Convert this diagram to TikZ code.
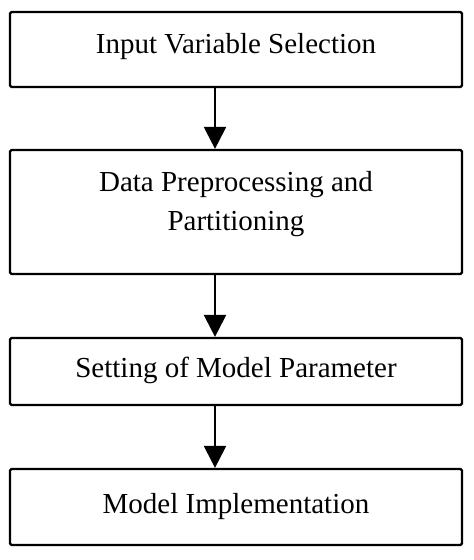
\documentclass[tikz,border=0pt]{standalone}
\usepackage{fontspec}
\setmainfont{Liberation Serif}
\usetikzlibrary{arrows.meta}

\begin{document}
\begin{tikzpicture}[x=1pt,y=-1pt,
	stepbox/.style={draw,line width=2.2pt,rounded corners=1.5pt,minimum width=452pt,inner sep=0pt,
		font=\fontsize{29}{39}\selectfont,align=center,text height=20pt,text depth=10pt},
	>={Triangle[width=22pt,length=22pt]}]
\useasboundingbox (0,0) rectangle (474,560);
	\node[stepbox,minimum height=75pt,text depth=13pt] (0) at (236,49.5) {Input Variable Selection};
\node[stepbox,minimum height=124pt,text height={},text depth=23pt] (1) at (236,212) {Data Preprocessing and\\Partitioning};
\node[stepbox,minimum height=67pt,text depth=9pt] (2) at (236,371.5) {Setting of Model Parameter};
\node[stepbox,minimum height=76pt,text depth=8pt] (3) at (236,507) {Model Implementation};
\draw [->,line width=2.2pt]([xshift=-21pt]0.south)--([xshift=-21pt]1.north);
\draw [->,line width=2.2pt]([xshift=-21pt]1.south)--([xshift=-21pt]2.north);
\draw [->,line width=2.2pt]([xshift=-21pt]2.south)--([xshift=-21pt]3.north);
	\end{tikzpicture}
\end{document}
